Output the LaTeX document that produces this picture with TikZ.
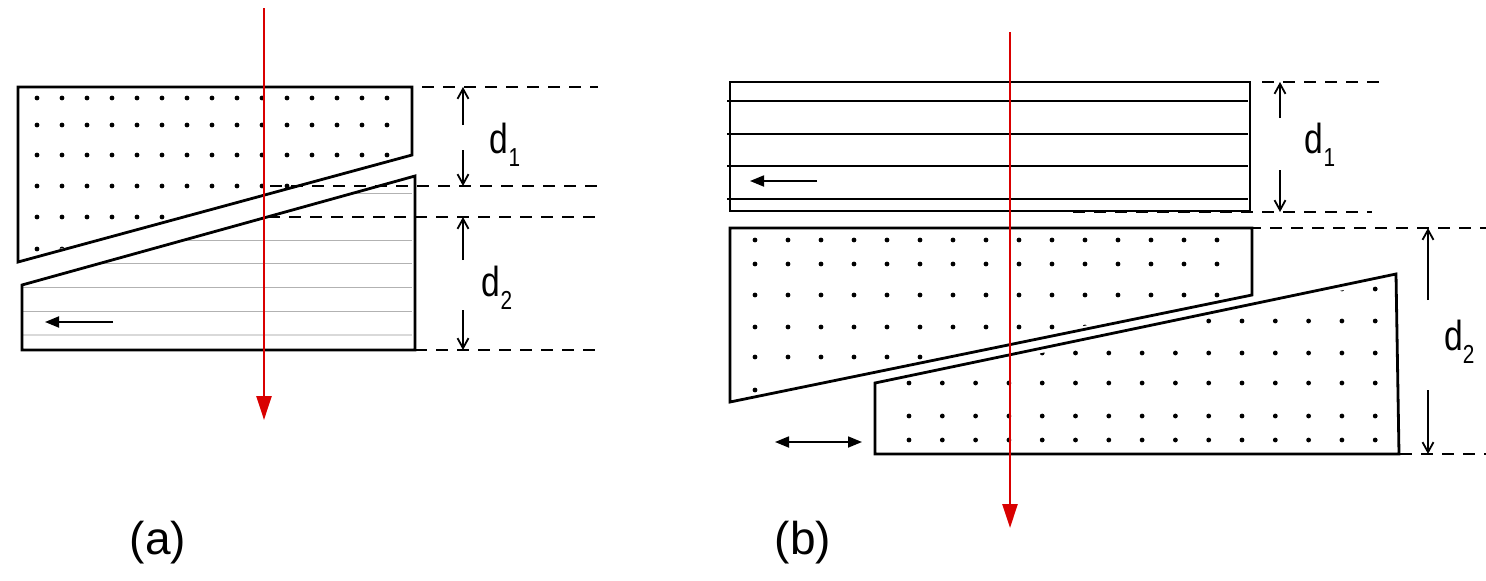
\documentclass[tikz,border=0pt]{standalone}
\usepackage{fontspec}
\setmainfont{Liberation Sans}
\usetikzlibrary{arrows.meta}
\newcommand{\dsub}[2]{\scalebox{0.8}[1]{#1\raisebox{-0.3em}{\fontsize{26}{26}\selectfont #2}}}
\begin{document}
\begin{tikzpicture}[x=1pt,y=-1pt,
  edge/.style={line width=2.8pt,line join=miter},
  gl/.style={gray!60,line width=0.9pt},
  bl/.style={black,line width=1.1pt},
  dsh/.style={dashed,dash pattern=on 12pt off 9pt,line width=2pt},
  ray/.style={red!85!black,line width=2.6pt,-{Triangle[length=24pt,width=15pt]}},
  mv/.style={line width=1.8pt,-{Triangle[length=14pt,width=11pt]}},
  dim/.style={line width=1.8pt,-{Straight Barb[length=10pt,width=11pt]}},
  lab/.style={font=\fontsize{46}{46}\selectfont,inner sep=0pt},
  dl/.style={font=\fontsize{42}{42}\selectfont,inner sep=0pt}]
\useasboundingbox (0,0) rectangle (1486,581);
% ---------- panel (a) ----------
\begin{scope}
\clip (24,92) -- (407,92) -- (407,159) -- (24,258) -- cycle;
\foreach \y in {98,125,155,186,217,249}
 \foreach \k in {0,...,14} \fill (37+25*\k,\y) circle (2.4pt);
\end{scope}
\begin{scope}
\clip (22,285) -- (415,176) -- (415,350) -- (22,350) -- cycle;
\foreach \y in {193,240,263,287,311}
 \draw[gl] (22,\y) -- (412,\y);
\draw[gray!30,line width=1.5pt] (22,335) -- (412,335);
\end{scope}
\draw[edge] (18,87) -- (412,87) -- (412,155) -- (18,262) -- cycle;
\draw[edge] (22,285) -- (415,176) -- (415,350) -- (22,350) -- cycle;
\draw[mv] (113,322) -- (45,322);
\foreach \y/\x in {87/275,186/270,217/268,350/268}
 \draw[dsh] (\x,\y) -- (598,\y);
\coordinate (a1t) at (463,87); \coordinate (a1b) at (463,186);
\coordinate (a2t) at (463,217); \coordinate (a2b) at (463,350);
\draw[dim] (463,125) -- (a1t); \draw[dim] (463,150) -- (a1b);
\draw[dim] (463,260) -- (a2t); \draw[dim] (463,310) -- (a2b);
\node[dl] (d1a) at (505,145) {\dsub{d}{1}};
\node[dl] (d2a) at (497,288) {\dsub{d}{2}};
\coordinate (ra0) at (264,8); \coordinate (ra1) at (264,420);
\draw[ray] (ra0) -- (ra1);
\node[lab] (la) at (158,543) {(a)};
% ---------- panel (b) ----------
\foreach \y in {101,134,166,199}
 \draw[bl] (727,\y) -- (1248,\y);
\draw[edge] (730,82) rectangle (1250,211);
\draw[mv] (817,181) -- (750,181);
\draw[dsh] (1262,82) -- (1380,82);
\draw[dsh] (1073,212) -- (1372,212);
\draw[dim] (1280,118) -- (1280,82); \draw[dim] (1280,170) -- (1280,212);
\node[dl] (d1b) at (1320,145) {\dsub{d}{1}};
\begin{scope}
\clip (735,232) -- (1248,232) -- (1248,292) -- (735,398) -- cycle;
\foreach \y in {240,264,295,327,357,390}
 \foreach \k in {0,...,14} \fill (755+33*\k,\y) circle (2.4pt);
\end{scope}
\draw[edge] (730,228) -- (1252,228) -- (1252,295) -- (730,402) -- cycle;
\begin{scope}
\clip (879,387) -- (1392,280) -- (1395,450) -- (879,450) -- cycle;
\foreach \y in {289,321,353,383,416,440}
 \foreach \k in {0,...,14} \fill (909+33.3*\k,\y) circle (2.4pt);
\end{scope}
\draw[edge] (875,383) -- (1396,274) -- (1399,454) -- (875,454) -- cycle;
\draw[line width=1.8pt,{Triangle[length=14pt,width=11pt]}-{Triangle[length=14pt,width=11pt]}] (775,442) -- (862,442);
\draw[dsh] (1165,228) -- (1486,228);
\draw[dsh] (1190,454) -- (1486,454);
\draw[dim] (1428,300) -- (1428,228); \draw[dim] (1428,390) -- (1428,454);
\node[dl,anchor=west] (d2b) at (1444,342) {\dsub{d}{2}};
\coordinate (rb0) at (1010,32); \coordinate (rb1) at (1010,528);
\draw[ray] (rb0) -- (rb1);
\node[lab] (lb) at (803,543) {(b)};
\end{tikzpicture}
\end{document}
